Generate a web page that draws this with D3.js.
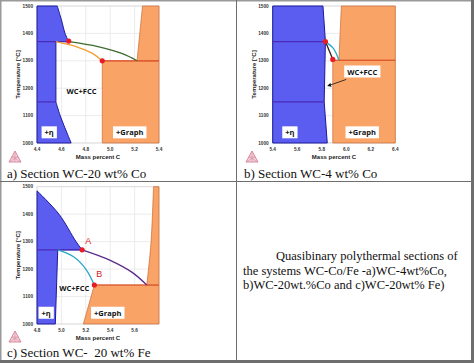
<!DOCTYPE html>
<html>
<head>
<meta charset="utf-8">
<script src="https://cdn.jsdelivr.net/npm/d3@7"></script>
<style>
  body { margin: 0; background: #fff; }
  svg { display: block; }
</style>
</head>
<body>
<div id="chart"></div>
<script>
// ---- data (mass % C, temperature °C) ----
var tempTicks = [1000, 1100, 1200, 1300, 1400, 1500];

// a) WC-20 wt% Co
var aTicks = [4.4, 4.6, 4.8, 5.0, 5.2, 5.4];
var aEtaUpper = [[4.566, 1500], [4.60, 1450], [4.63, 1400], [4.66, 1370]];
var aEtaLower = [[4.555, 1150], [4.59, 1100], [4.68, 1000]];
var aGraphLow = [[4.935, 1000], [4.935, 1300], [5.4, 1300], [5.4, 1000]];
var aGraphHigh = [[5.22, 1300], [5.265, 1500], [5.4, 1500], [5.4, 1300]];
var aLiqGreen = [[4.66, 1370], [4.9, 1352], [5.1, 1326], [5.22, 1300]];
var aLiqOrange = [[4.555, 1370], [4.72, 1352], [4.85, 1328], [4.935, 1300]];
var aIso = [[4.4, 4.66, 1370, "#4b2ab8"], [4.4, 4.555, 1150, "#4b2ab8"], [4.935, 5.4, 1300, "#e0502a"]];
var aDots = [[4.66, 1372], [4.935, 1300]];

// b) WC-4 wt% Co
var bTicks = [5.4, 5.6, 5.8, 6.0, 6.2, 6.4];
var bEta = [[5.4, 1500], [5.81, 1500], [5.83, 1370], [5.82, 1150], [5.845, 1000], [5.4, 1000]];
var bGraphLow = [[5.89, 1000], [5.89, 1302], [6.4, 1302], [6.4, 1000]];
var bGraphHigh = [[5.94, 1302], [5.96, 1500], [6.4, 1500], [6.4, 1302]];
var bLiqDark = [[5.83, 1370], [5.86, 1338], [5.89, 1305]];
var bLiqCyan = [[5.83, 1370], [5.895, 1345], [5.94, 1302]];
var bIso = [[5.4, 5.83, 1370, "#4b2ab8"], [5.4, 5.82, 1150, "#4b2ab8"], [5.89, 6.4, 1302, "#e0502a"]];
var bDots = [[5.83, 1370], [5.89, 1305]];

// c) WC-20 wt% Fe
var cTicks = [4.8, 5.0, 5.2, 5.4, 5.6];
var cEtaUpper = [[4.8, 1485], [4.98, 1400], [5.12, 1300], [5.17, 1270]];
var cEtaLower = [[4.97, 1270], [4.95, 1000]];
var cGraphLow = [[5.18, 1000], [5.27, 1142], [5.8, 1142], [5.8, 1000]];
var cGraphHigh = [[5.70, 1142], [5.735, 1300], [5.755, 1500]];
var cLiqPurple = [[5.17, 1270], [5.4, 1232], [5.58, 1188], [5.70, 1142]];
var cLiqCyan = [[4.97, 1270], [5.1, 1245], [5.2, 1200], [5.27, 1142]];
var cIso = [[4.8, 5.17, 1270, "#4b2ab8"], [5.27, 5.8, 1142, "#e0502a"]];
var cDots = [[5.17, 1270], [5.27, 1142]];

var W = 474, H = 363;
var blue = "#5b5cf0", blueEdge = "#1c1a9a";
var orange = "#f9a366", orangeEdge = "#c86a3a";

var svg = d3.select("#chart").append("svg")
  .attr("width", W).attr("height", H)
  .style("font-family", "'Liberation Serif', 'Times New Roman', serif");

svg.append("rect").attr("width", W).attr("height", H).attr("fill", "#fff");

// builds a path from parts; a part is a plain point list (straight) or {curve: points} (smoothed)
function partsPath(sx, sy, parts, close) {
  var smooth = d3.line().x(d => sx(d[0])).y(d => sy(d[1])).curve(d3.curveCatmullRom);
  var straight = d3.line().x(d => sx(d[0])).y(d => sy(d[1]));
  var s = "";
  parts.forEach(function(p, i) {
    var seg = p.curve ? smooth(p.curve) : straight(p);
    if (i > 0) seg = "L" + seg.slice(1);
    s += seg;
  });
  return s + (close ? "Z" : "");
}

function panel(opt) {
  var x = d3.scaleLinear().domain(opt.xDomain).range([opt.left, opt.right]);
  var y = d3.scaleLinear().domain([1000, 1500]).range([opt.bottom, opt.top]);
  var g = svg.append("g");

  // grid
  g.selectAll(".gx").data(opt.ticks).enter().append("line")
    .attr("x1", d => x(d)).attr("x2", d => x(d))
    .attr("y1", opt.top).attr("y2", opt.bottom)
    .attr("stroke", "#e4e4e4").attr("stroke-width", 0.7);
  g.selectAll(".gy").data(tempTicks).enter().append("line")
    .attr("x1", opt.left).attr("x2", opt.right)
    .attr("y1", d => y(d)).attr("y2", d => y(d))
    .attr("stroke", "#e4e4e4").attr("stroke-width", 0.7);
  g.append("rect").attr("x", opt.left).attr("y", opt.top)
    .attr("width", opt.right - opt.left).attr("height", opt.bottom - opt.top)
    .attr("fill", "none").attr("stroke", "#d8d8d8").attr("stroke-width", 0.7);

  // regions
  opt.eta.forEach(function(parts) {
    g.append("path").attr("d", partsPath(x, y, parts, true))
      .attr("fill", blue).attr("stroke", blueEdge).attr("stroke-width", 1);
  });
  opt.graph.forEach(function(parts) {
    g.append("path").attr("d", partsPath(x, y, parts, true))
      .attr("fill", orange).attr("stroke", orangeEdge).attr("stroke-width", 0.7);
  });

  // isotherms
  opt.iso.forEach(function(d) {
    g.append("line").attr("x1", x(d[0])).attr("x2", x(d[1]))
      .attr("y1", y(d[2])).attr("y2", y(d[2]))
      .attr("stroke", d[3]).attr("stroke-width", 1.2);
  });

  // liquidus curves
  opt.curves.forEach(function(c) {
    g.append("path").attr("d", partsPath(x, y, [{ curve: c.pts }], false))
      .attr("fill", "none").attr("stroke", c.color).attr("stroke-width", 1.3);
  });

  g.selectAll(".dot").data(opt.dots).enter().append("circle")
    .attr("cx", d => x(d[0])).attr("cy", d => y(d[1])).attr("r", 2.6)
    .attr("fill", "#e81c24");

  // axes
  g.selectAll(".yl").data(tempTicks).enter().append("text")
    .attr("x", opt.left - 4).attr("y", d => y(d) + 1.6)
    .attr("text-anchor", "end")
    .style("font-family", "'Liberation Sans', Arial, sans-serif")
    .style("font-size", "4.7px").style("font-weight", "bold").attr("fill", "#333")
    .text(d => d);
  g.selectAll(".xl").data(opt.ticks).enter().append("text")
    .attr("x", d => x(d)).attr("y", opt.bottom + 7.5)
    .attr("text-anchor", "middle")
    .style("font-family", "'Liberation Sans', Arial, sans-serif")
    .style("font-size", "4.7px").style("font-weight", "bold").attr("fill", "#333")
    .text(d => d.toFixed(1));
  g.append("text")
    .attr("transform", "translate(" + (opt.left - 17) + "," + ((opt.top + opt.bottom) / 2) + ") rotate(-90)")
    .attr("text-anchor", "middle")
    .style("font-family", "'Liberation Sans', Arial, sans-serif")
    .style("font-size", "6px").style("font-weight", "bold").attr("fill", "#222")
    .text("Temperature [°C]");
  g.append("text")
    .attr("x", (opt.left + opt.right) / 2).attr("y", opt.bottom + 16)
    .attr("text-anchor", "middle")
    .style("font-family", "'Liberation Sans', Arial, sans-serif")
    .style("font-size", "6px").style("font-weight", "bold").attr("fill", "#222")
    .text("Mass percent C");

  // phase labels
  opt.labels.forEach(function(l) {
    var t = g.append("text").attr("x", x(l.x)).attr("y", y(l.y))
      .attr("text-anchor", "middle")
      .style("font-family", l.font || "'Open Sans', 'DejaVu Sans', sans-serif")
      .style("font-size", l.size || "7.5px").style("font-weight", l.weight || "bold")
      .attr("fill", l.color || "#111").text(l.text);
    if (l.box) {
      var b = t.node().getBBox();
      g.insert("rect", function() { return t.node(); })
        .attr("x", b.x - 3).attr("y", b.y - 1).attr("width", b.width + 6).attr("height", b.height + 2)
        .attr("fill", "#fff");
    }
  });

  // thermo-calc logo
  var lx = opt.logo[0], ly = opt.logo[1];
  var lg = g.append("g").attr("transform", "translate(" + lx + "," + ly + ")")
    .attr("fill", "none").attr("stroke", "#d98aa0").attr("stroke-width", 1);
  lg.append("path").attr("d", "M0,-6 L6,5 L-6,5 Z").attr("fill", "#f2d3dc");
  lg.append("path").attr("d", "M0,-6 L0,5 M-3,0 L3,0 M-6,5 L3,0 M6,5 L-3,0").attr("stroke-width", 0.6);

  return { x: x, y: y, g: g };
}

// panel a
var pa = panel({
  xDomain: [4.4, 5.4], ticks: aTicks, left: 37, right: 159, top: 6, bottom: 143,
  eta: [[[[4.4, 1000], [4.4, 1500]], { curve: aEtaUpper }, [[4.66, 1370], [4.555, 1370], [4.555, 1150]],
         { curve: aEtaLower }, [[4.68, 1000], [4.4, 1000]]]],
  graph: [[aGraphLow], [aGraphHigh]],
  iso: aIso,
  curves: [{ pts: aLiqGreen, color: "#3e6b2e" }, { pts: aLiqOrange, color: "#f0a030" }],
  dots: aDots,
  labels: [
    { text: "WC+FCC", x: 4.765, y: 1180 },
    { text: "+\u03b7", x: 4.5, y: 1028, box: true },
    { text: "+Graph", x: 5.16, y: 1028, box: true }
  ],
  logo: [15, 157]
});

// panel b
var pb = panel({
  xDomain: [5.4, 6.4], ticks: bTicks, left: 272.7, right: 395.3, top: 6, bottom: 143,
  eta: [[bEta]],
  graph: [[bGraphLow], [bGraphHigh]],
  iso: bIso,
  curves: [{ pts: bLiqDark, color: "#3a1a10" }, { pts: bLiqCyan, color: "#2aa8c8" }],
  dots: bDots,
  labels: [
    { text: "WC+FCC", x: 6.13, y: 1250, box: true },
    { text: "+\u03b7", x: 5.54, y: 1028, box: true },
    { text: "+Graph", x: 6.13, y: 1028, box: true }
  ],
  logo: [252, 157]
});
// arrow pointing at the WC+FCC gap
pb.g.append("defs").append("marker").attr("id", "arr")
  .attr("viewBox", "0 0 10 10").attr("refX", 5).attr("refY", 5)
  .attr("markerWidth", 5).attr("markerHeight", 5).attr("orient", "auto")
  .append("path").attr("d", "M0,0 L10,5 L0,10 Z").attr("fill", "#111");
pb.g.append("line")
  .attr("x1", pb.x(6.0)).attr("y1", pb.y(1232))
  .attr("x2", pb.x(5.86)).attr("y2", pb.y(1210))
  .attr("stroke", "#111").attr("stroke-width", 0.8).attr("marker-end", "url(#arr)");

// panel c
var pc = panel({
  xDomain: [4.8, 5.8], ticks: cTicks, left: 37, right: 159, top: 186.7, bottom: 324,
  eta: [[[[4.8, 1000], [4.8, 1485]], { curve: cEtaUpper }, cEtaLower, [[4.8, 1000]]]],
  graph: [[cGraphLow], [{ curve: cGraphHigh }, [[5.8, 1500], [5.8, 1142]]]],
  iso: cIso,
  curves: [{ pts: cLiqPurple, color: "#5a2a8a" }, { pts: cLiqCyan, color: "#2aa8c8" }],
  dots: cDots,
  labels: [
    { text: "WC+FCC", x: 5.105, y: 1120 },
    { text: "+\u03b7", x: 4.875, y: 1030, box: true },
    { text: "+Graph", x: 5.38, y: 1030, box: true },
    { text: "A", x: 5.22, y: 1290, color: "#d8202a", font: "'Liberation Sans', Arial, sans-serif", weight: "normal", size: "9px" },
    { text: "B", x: 5.31, y: 1170, color: "#d8202a", font: "'Liberation Sans', Arial, sans-serif", weight: "normal", size: "9px" }
  ],
  logo: [15, 337]
});

// captions
var captions = [
  { t: "a) Section WC-20 wt% Co", x: 7, y: 178 },
  { t: "b) Section WC-4 wt% Co", x: 244, y: 178 },
  { t: "c) Section WC-  20 wt% Fe", x: 7, y: 357 }
];
svg.selectAll(".cap").data(captions).enter().append("text")
  .attr("x", d => d.x).attr("y", d => d.y)
  .attr("xml:space", "preserve").style("white-space", "pre")
  .style("font-size", "13px").attr("fill", "#111")
  .text(d => d.t);

// description cell
var desc = [
  { t: "Quasibinary polythermal sections of", x: 276, y: 260 },
  { t: "the systems WC-Co/Fe -a)WC-4wt%Co,", x: 243, y: 274.5 },
  { t: "b)WC-20wt.%Co and c)WC-20wt% Fe)", x: 243, y: 289 }
];
svg.selectAll(".desc").data(desc).enter().append("text")
  .attr("x", d => d.x).attr("y", d => d.y)
  .style("font-size", "12.5px").attr("fill", "#111")
  .text(d => d.t);

// table rules
var rule = svg.append("g").attr("stroke", "#6e6e6e");
rule.append("line").attr("x1", 0).attr("x2", W).attr("y1", 0.75).attr("y2", 0.75).attr("stroke-width", 1.5).attr("stroke", "#999");
rule.append("line").attr("x1", 0.75).attr("x2", 0.75).attr("y1", 0).attr("y2", H).attr("stroke-width", 1.5).attr("stroke", "#999");
rule.append("line").attr("x1", W - 1.5).attr("x2", W - 1.5).attr("y1", 0).attr("y2", H).attr("stroke-width", 3);
rule.append("line").attr("x1", 0).attr("x2", W).attr("y1", H - 1.5).attr("y2", H - 1.5).attr("stroke-width", 3);
rule.append("line").attr("x1", 236.5).attr("x2", 236.5).attr("y1", 0).attr("y2", H).attr("stroke-width", 1);
rule.append("line").attr("x1", 0).attr("x2", W).attr("y1", 181.5).attr("y2", 181.5).attr("stroke-width", 1);
</script>
</body>
</html>
